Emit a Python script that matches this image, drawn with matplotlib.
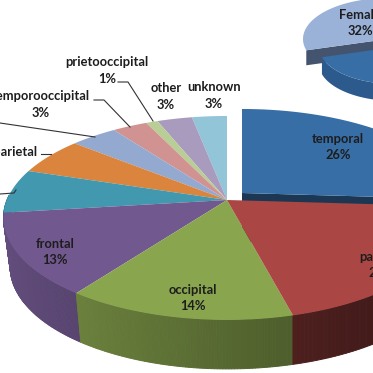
import numpy as np
import matplotlib
matplotlib.use('Agg')
import matplotlib.pyplot as plt
from matplotlib.colors import to_rgb

# main pie, clockwise from 12 o'clock
shares = [26, 20, 14, 13, 7, 6, 4, 3, 1, 3, 3]
colors = ['#376ea6', '#aa4643', '#89a54e', '#71588f', '#4198af', '#db843d',
          '#93a9cf', '#d19392', '#b9cd96', '#a99bbd', '#92c5d8']
labels = ['temporal\n26%', 'parietal\n20%', 'occipital\n14%', 'frontal\n13%']
label_pos = [(338, 147), (381, 265), (193, 298), (55, 252)]

# small gender pie
sex_shares = [68, 32]
sex_colors = ['#376ea6', '#9ab2d8']
sex_side = ['#2c5a8c', '#45546e']

CX, CY = 227, 200
A, B, K = 98.8, 220, 0.176
DEPTH = 49
SEX_START = np.radians(254)
FONT_SIZE = 9.3

plt.rcParams['font.family'] = ['Lato', 'DejaVu Sans']


def project(theta, r=1.0):
    # perspective view of a flat disc, theta clockwise from the top
    X = r * np.sin(theta)
    Y = r * np.cos(theta)
    w = 1 + K * Y
    return B * X / w, -A * Y / w


def draw_slice(ax, start, end, color, dx=0, dy=0, cut=False, wall=1.0):
    t = np.linspace(start, end, 80)
    x, y = project(t)
    x = x + CX + dx
    y = y + CY + dy
    cx, cy = CX + dx, CY + dy
    base = np.array(to_rgb(color))
    if cut:
        ax.fill([cx, x[-1], x[-1], cx], [cy, y[-1], y[-1] + DEPTH, cy + DEPTH],
                color=base * 0.5, lw=0, zorder=2)
    # outer wall, in strips so it can darken towards the right
    xb = np.where(x < cx, cx + (x - cx) * 0.97, x)
    for i in range(len(t) - 1):
        if np.cos((t[i] + t[i + 1]) / 2) > 0.05:
            continue
        shade = (0.88 - 0.5 * (np.sin(t[i]) + 1) / 2) * wall
        ax.fill([x[i], x[i + 1], xb[i + 1], xb[i]],
                [y[i], y[i + 1], y[i + 1] + DEPTH, y[i] + DEPTH],
                color=base * shade, lw=0.7, zorder=3)
    ax.fill(np.r_[cx, x], np.r_[cy, y], color=color, lw=0, zorder=4)


fig = plt.figure(figsize=(3.73, 3.73), dpi=100)
ax = fig.add_axes([0, 0, 1, 1])
ax.set_xlim(0, 373)
ax.set_ylim(373, 0)
ax.axis('off')

edges = np.cumsum([0] + shares) / 100 * 2 * np.pi
# temporal is pulled out of the pie, it goes under the rest
draw_slice(ax, edges[0], edges[1], colors[0], dx=15, dy=-7, cut=True)
for i in range(len(shares) - 1, 0, -1):
    draw_slice(ax, edges[i], edges[i + 1], colors[i], wall=0.8 if i == 1 else 1.0)

for text, (tx, ty) in zip(labels, label_pos):
    ax.text(tx, ty, text, ha='center', va='center', fontsize=FONT_SIZE, fontweight='bold',
            color='#1d1d1d', linespacing=1.4, zorder=6, clip_on=True)

# outside labels with leader lines
outside = [('prietooccipital', 107, 62), ('1%', 107, 79), ('temporooccipital', 41, 96),
           ('3%', 41, 113), ('other', 166, 88), ('3%', 166, 105),
           ('unknown', 214, 87), ('3%', 214, 104), ('fronto-parietal', 38, 152)]
for text, tx, ty in outside:
    ha = 'right' if text == 'fronto-parietal' else 'center'
    ax.text(tx, ty, text, ha=ha, va='center', fontsize=FONT_SIZE, fontweight='bold',
            color='#1d1d1d', zorder=6, clip_on=True)
leaders = [([118, 128, 153], [82, 82, 121]), ([94, 104, 130], [100, 100, 127]),
           ([0, 95], [123, 137]), ([41, 51], [154, 154]), ([0, 14, 16], [194, 193, 190])]
for lx, ly in leaders:
    ax.plot(lx, ly, color='#333333', lw=0.8, zorder=5)

# small pie in the corner
sex_edges = SEX_START + np.cumsum([0] + sex_shares[::-1]) / 100 * 2 * np.pi
t = np.linspace(sex_edges[0], sex_edges[1], 80)
sx, sy = 388 + 85 * np.sin(t), 39 - 41 * np.cos(t)
ax.fill(np.r_[388, sx], np.r_[39, sy], color=sex_colors[1], lw=0, zorder=2)
ax.fill([388, sx[0], sx[0], 388], [39, sy[0], sy[0] + 15, 54], color=sex_side[1], lw=0, zorder=1)
t = np.linspace(sex_edges[1], sex_edges[2], 120)
sx, sy = 395 + 76 * np.sin(t), 47 - 37 * np.cos(t)
ax.fill(np.r_[sx, sx[::-1]], np.r_[sy, sy[::-1] + 17], color=sex_side[0], lw=0, zorder=2)
ax.fill(np.r_[395, sx], np.r_[47, sy], color=sex_colors[0], lw=0, zorder=3)
ax.text(360, 23, 'Female\n32%', ha='center', va='center', fontsize=FONT_SIZE, fontweight='bold',
        color='#1d1d1d', linespacing=1.4, zorder=6)

fig.savefig('out.png', dpi=100)
